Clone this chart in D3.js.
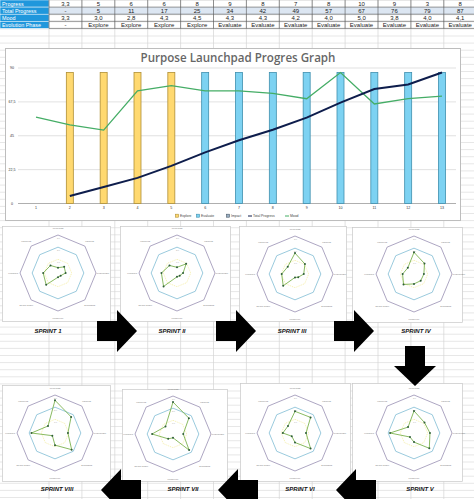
<!DOCTYPE html>
<html>
<head>
<meta charset="utf-8">
<script src="https://cdn.jsdelivr.net/npm/d3@7"></script>
<style>
  html, body { margin: 0; padding: 0; background: #fff; }
  svg { display: block; font-family: "Liberation Sans", Arial, sans-serif; }
</style>
</head>
<body>
<svg id="sheet" width="474" height="499"></svg>
<script>
// table data (one column per sprint step)
const rowLabels = ['Progress', 'Total Progress', 'Mood', 'Evolution Phase'];
const progress = ['3,3', '5', '6', '6', '8', '9', '8', '7', '8', '10', '9', '3', '8'];
const totalProgress = [null, 5, 11, 17, 25, 34, 42, 49, 57, 67, 76, 79, 87];
const mood = [3.3, 3.0, 2.8, 4.3, 4.5, 4.3, 4.3, 4.2, 4.0, 5.0, 3.8, 4.0, 4.1];
const phase = ['-', 'Explore', 'Explore', 'Explore', 'Explore', 'Evaluate', 'Evaluate',
  'Evaluate', 'Evaluate', 'Evaluate', 'Evaluate', 'Evaluate', 'Evaluate'];
const steps = d3.range(1, 14);

// bars in the chart
const exploreBars = [null, 87, 87, 87, 87, null, null, null, null, null, null, null, null];
const evaluateBars = [null, null, null, null, null, 87, 87, 87, 87, 87, 87, 87, 87];
const yTicks = [0, 22.5, 45, 67.5, 90];

// radar data: axes clockwise from top
const radarAxes = ['PURPOSE', 'PEOPLE', 'CUSTOMER', 'BUSINESS', 'PRODUCT', 'ECOSYSTEM', 'FUNDING', 'METRICS'];
const ringLevels = [1.8, 3.4, 5];
const sprintNames = ['SPRINT 1', 'SPRINT II', 'SPRINT III', 'SPRINT IV', 'SPRINT V', 'SPRINT VI', 'SPRINT VII', 'SPRINT VIII'];
const sprint1 = [0.7, 1.15, 1.0, 0.5, 0.55, 2.2, 1.95, 1.4];
const sprint2 = [0.75, 1.7, 0.8, 0.5, 0.5, 2.5, 2.05, 1.4];
const sprint3 = [2.75, 1.85, 1.15, 0.6, 0.45, 2.2, 1.75, 1.35];
const sprint4 = [2.85, 1.95, 1.3, 1.25, 1.3, 1.95, 1.5, 1.15];
const sprint5 = [2.9, 1.95, 2.1, 2.85, 1.2, 0.75, 3.15, 1.1];
const sprint6 = [2.85, 2.9, 1.45, 2.9, 1.25, 0.6, 1.6, 1.3];
const sprint7 = [4.2, 2.95, 1.35, 3.0, 0.5, 0.9, 2.75, 1.4];
const sprint8 = [4.3, 3.0, 1.7, 3.1, 1.6, 0.5, 3.1, 1.3];

const svg = d3.select('#sheet');
const W = 474, H = 499;

// ---- spreadsheet grid background
const col = d3.scaleBand().domain(steps).range([49, 49 + 32.9 * 13]);
const rowH = 7.1;
svg.append('g')
  .selectAll('line')
  .data(d3.range(0, H, rowH))
  .join('line')
  .attr('x1', 0).attr('x2', W)
  .attr('y1', d => d + 0.5).attr('y2', d => d + 0.5)
  .attr('stroke', '#dcdcdc').attr('stroke-width', 0.7);
svg.append('g')
  .selectAll('line')
  .data([49, ...steps.map(s => col(s) + col.bandwidth())])
  .join('line')
  .attr('x1', d => d).attr('x2', d => d)
  .attr('y1', 0).attr('y2', H)
  .attr('stroke', '#d4d4d4').attr('stroke-width', 0.7);

// ---- top table
const table = svg.append('g');
const rowsData = [
  progress,
  totalProgress.map(v => v == null ? '-' : String(v)),
  mood.map(v => v.toFixed(1).replace('.', ',')),
  phase
];
table.append('rect').attr('x', 49).attr('y', rowH).attr('width', W - 49).attr('height', rowH)
  .attr('fill', '#dce6f2');
rowLabels.forEach((lab, r) => {
  table.append('rect').attr('x', 0).attr('y', r * rowH).attr('width', 49).attr('height', rowH)
    .attr('fill', '#1f97dc').attr('stroke', '#fff').attr('stroke-width', 0.5);
  table.append('text').attr('x', 2).attr('y', r * rowH + 5.6)
    .attr('font-size', 5.4).attr('fill', '#fff').text(lab);
  rowsData[r].forEach((v, i) => {
    table.append('text')
      .attr('x', col(steps[i]) + col.bandwidth() / 2)
      .attr('y', r * rowH + 5.8)
      .attr('text-anchor', 'middle')
      .attr('font-size', 6).attr('fill', '#222').text(v);
  });
});
table.selectAll('line.tb')
  .data(d3.range(1, 5))
  .join('line')
  .attr('x1', 49).attr('x2', W)
  .attr('y1', d => d * rowH).attr('y2', d => d * rowH)
  .attr('stroke', '#555').attr('stroke-width', 0.6);
table.selectAll('line.tc')
  .data(steps)
  .join('line')
  .attr('x1', d => col(d)).attr('x2', d => col(d))
  .attr('y1', 0).attr('y2', 4 * rowH)
  .attr('stroke', '#555').attr('stroke-width', 0.6);

// ---- combined chart
const chart = svg.append('g');
chart.append('rect').attr('x', 5.5).attr('y', 48.5).attr('width', 455).attr('height', 172)
  .attr('fill', '#fff').attr('stroke', '#bdbdbd').attr('stroke-width', 1);
chart.append('text').attr('x', 238).attr('y', 61.5).attr('text-anchor', 'middle')
  .attr('font-family', 'Open Sans, sans-serif').attr('font-size', 11.6).attr('font-weight', 600)
  .attr('fill', '#666').text('Purpose Launchpad Progres Graph');

const x = d3.scaleLinear().domain([1, 13]).range([36, 442]);
const y = d3.scaleLinear().domain([0, 90]).range([203.5, 68]);
const yMood = d3.scaleLinear().domain([0, 5]).range([y(0), y(87)]);

chart.append('g')
  .selectAll('line')
  .data(yTicks)
  .join('line')
  .attr('x1', 18).attr('x2', 456)
  .attr('y1', d => y(d)).attr('y2', d => y(d))
  .attr('stroke', d => d === 0 ? '#9a9a9a' : '#d9d9d9').attr('stroke-width', 0.8);
chart.append('g')
  .selectAll('text')
  .data(yTicks)
  .join('text')
  .attr('x', 12).attr('y', d => y(d) + 1.2)
  .attr('text-anchor', 'middle').attr('font-size', 3.6).attr('fill', '#333')
  .text(d => String(d).replace('.', ','));
chart.append('g')
  .selectAll('text')
  .data(steps)
  .join('text')
  .attr('x', d => x(d)).attr('y', 209)
  .attr('text-anchor', 'middle').attr('font-size', 3.6).attr('fill', '#333')
  .text(d => d);

const barW = 7;
function bars(values, fill, stroke) {
  chart.append('g')
    .selectAll('rect')
    .data(steps.filter((s, i) => values[i] != null))
    .join('rect')
    .attr('x', d => x(d) - barW / 2)
    .attr('y', d => y(values[d - 1]))
    .attr('width', barW)
    .attr('height', d => y(0) - y(values[d - 1]))
    .attr('fill', fill).attr('stroke', stroke).attr('stroke-width', 0.8);
}
bars(exploreBars, '#ffd970', '#b08f35');
bars(evaluateBars, '#7dd2f2', '#3f8fae');

const moodLine = d3.line().x((d, i) => x(steps[i])).y(d => yMood(d));
chart.append('path').datum(mood).attr('d', moodLine)
  .attr('fill', 'none').attr('stroke', '#45ad66').attr('stroke-width', 1.3);

const totalLine = d3.line()
  .defined(d => d != null)
  .x((d, i) => x(steps[i])).y(d => y(d));
chart.append('path').datum(totalProgress).attr('d', totalLine)
  .attr('fill', 'none').attr('stroke', '#0e1d4c').attr('stroke-width', 2);

// legend
const legendItems = [
  { name: 'Explore', type: 'box', fill: '#ffd970', stroke: '#b08f35', x: 177 },
  { name: 'Evaluate', type: 'box', fill: '#7dd2f2', stroke: '#3f8fae', x: 198 },
  { name: 'Impact', type: 'box', fill: '#9bb0c4', stroke: '#4a5a6a', x: 228 },
  { name: 'Total Progress', type: 'line', stroke: '#0e1d4c', x: 250 },
  { name: 'Mood', type: 'line', stroke: '#45ad66', x: 287 }
];
const lg = chart.append('g').selectAll('g').data(legendItems).join('g')
  .attr('transform', d => `translate(${d.x},216)`);
lg.filter(d => d.type === 'box').append('rect')
  .attr('x', -1.5).attr('y', -1.8).attr('width', 3).attr('height', 3)
  .attr('fill', d => d.fill).attr('stroke', d => d.stroke).attr('stroke-width', 0.6);
lg.filter(d => d.type === 'line').append('line')
  .attr('x1', -2).attr('x2', 2).attr('y1', 0).attr('y2', 0)
  .attr('stroke', d => d.stroke).attr('stroke-width', 1);
lg.append('text').attr('x', 3).attr('y', 1.2).attr('font-size', 3.4).attr('fill', '#444')
  .text(d => d.name);

// ---- radar panels
const panels = [
  { vals: sprint1, box: [2, 226, 108, 95], c: [58, 273], name: sprintNames[0], lab: [48, 333] },
  { vals: sprint2, box: [120, 226, 110, 95], c: [177, 273], name: sprintNames[1], lab: [172, 333] },
  { vals: sprint3, box: [239, 226, 107, 95], c: [295, 274], name: sprintNames[2], lab: [292, 333] },
  { vals: sprint4, box: [352, 227, 110, 95], c: [414, 274], name: sprintNames[3], lab: [416, 333] },
  { vals: sprint5, box: [352, 383, 110, 98], c: [414, 433], name: sprintNames[4], lab: [420, 491] },
  { vals: sprint6, box: [240, 383, 110, 98], c: [295, 433], name: sprintNames[5], lab: [300, 491] },
  { vals: sprint7, box: [122, 389, 105, 92], c: [173, 434], name: sprintNames[6], lab: [183, 491] },
  { vals: sprint8, box: [2, 385, 108, 96], c: [55, 433], name: sprintNames[7], lab: [57, 491] }
];

const ang = d3.scaleLinear().domain([0, radarAxes.length]).range([-Math.PI / 2, Math.PI * 1.5]);
function drawRadar(p) {
  const g = svg.append('g');
  const [bx, by, bw, bh] = p.box;
  g.append('rect').attr('x', bx + 0.5).attr('y', by + 0.5).attr('width', bw).attr('height', bh)
    .attr('fill', '#fff').attr('stroke', '#c8c8c8').attr('stroke-width', 0.7);
  const [cx, cy] = p.c;
  const r = d3.scaleLinear().domain([0, 5]).range([0, 38]);
  const pt = (v, i) => [cx + r(v) * Math.cos(ang(i)), cy + r(v) * Math.sin(ang(i))];
  const ringColors = ['#f2ea8a', '#6fb3cf', '#8a80a8'];
  ringLevels.forEach((lv, k) => {
    g.append('polygon')
      .attr('points', radarAxes.map((a, i) => pt(lv, i).join(',')).join(' '))
      .attr('fill', 'none').attr('stroke', ringColors[k])
      .attr('stroke-width', k === 0 ? 0.6 : 0.7)
      .attr('stroke-dasharray', k === 0 ? '1.2,0.8' : null);
  });
  // axis labels
  g.selectAll('text.ax').data(radarAxes).join('text')
    .attr('x', (d, i) => pt(5.9, i)[0]).attr('y', (d, i) => pt(5.9, i)[1] + 1)
    .attr('text-anchor', 'middle').attr('font-size', 2.2).attr('fill', '#8a8a8a')
    .text(d => d);
  g.selectAll('text.tk').data(ringLevels).join('text')
    .attr('x', cx - 1).attr('y', d => cy - r(d) + 4)
    .attr('font-size', 2.2).attr('fill', '#aaa').text((d, i) => (i + 1).toFixed(1));
  const line = d3.lineRadial().angle((d, i) => ang(i) + Math.PI / 2).radius(d => r(d))
    .curve(d3.curveLinearClosed);
  g.append('path').datum(p.vals).attr('d', line)
    .attr('transform', `translate(${cx},${cy})`)
    .attr('fill', 'none').attr('stroke', '#7cb24f').attr('stroke-width', 0.9);
  g.selectAll('circle').data(p.vals).join('circle')
    .attr('cx', (d, i) => pt(d, i)[0]).attr('cy', (d, i) => pt(d, i)[1])
    .attr('r', 1).attr('fill', '#2f5d3a');
  svg.append('text').attr('x', p.lab[0]).attr('y', p.lab[1])
    .attr('text-anchor', 'middle').attr('font-size', 6).attr('font-weight', 'bold')
    .attr('font-style', 'italic').attr('fill', '#111').text(p.name);
}
panels.forEach(drawRadar);

// ---- big black arrows
function arrow(cx, cy, rot) {
  svg.append('path')
    .attr('d', 'M-20,-10 L0,-10 L0,-21 L20,0 L0,21 L0,10 L-20,10 Z')
    .attr('transform', `translate(${cx},${cy}) rotate(${rot})`)
    .attr('fill', '#000');
}
arrow(117, 331, 0);
arrow(236, 331, 0);
arrow(354, 331, 0);
arrow(415, 366, 90);
arrow(121, 490, 180);
arrow(238, 490, 180);
arrow(356, 490, 180);
</script>
</body>
</html>
